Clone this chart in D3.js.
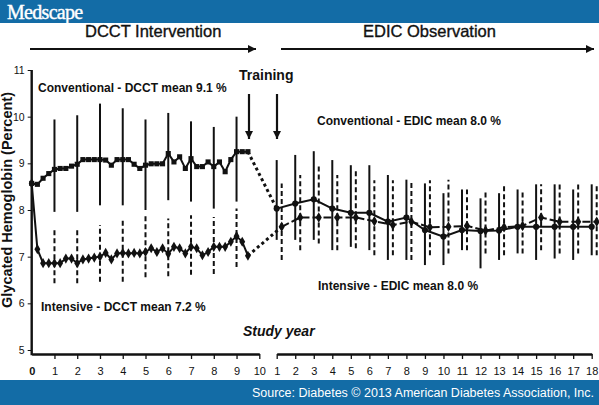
<!DOCTYPE html>
<html>
<head>
<meta charset="utf-8">
<script src="https://cdn.jsdelivr.net/npm/d3@7"></script>
<style>
  body { margin: 0; background: #fff; }
  svg { display: block; font-family: Arial, "Liberation Sans", sans-serif; }
</style>
</head>
<body>
<svg id="chart" width="599" height="405"></svg>
<script>
// DCCT: quarterly visits, years 0 - 9.5
const dcctVisits = [0, 0.25, 0.5, 0.75, 1, 1.25, 1.5, 1.75, 2, 2.25, 2.5, 2.75, 3, 3.25, 3.5, 3.75,
  4, 4.25, 4.5, 4.75, 5, 5.25, 5.5, 5.75, 6, 6.25, 6.5, 6.75, 7, 7.25, 7.5, 7.75,
  8, 8.25, 8.5, 8.75, 9, 9.25, 9.5];
const dcctConventional = [8.57, 8.55, 8.68, 8.78, 8.87, 8.89, 8.89, 8.94, 8.98, 9.08, 9.08, 9.08, 9.08,
  9.07, 8.96, 9.08, 9.08, 9.08, 8.98, 8.89, 8.96, 8.99, 8.99, 8.99, 9.21, 9.03, 9.14, 8.89,
  9.10, 8.93, 8.93, 9.03, 8.93, 9.03, 8.82, 9.08, 9.25, 9.25, 9.25];
const dcctIntensive = [8.57, 7.16, 6.86, 6.86, 6.86, 6.86, 6.96, 6.96, 6.86, 6.94, 6.96, 6.98, 7.0,
  7.08, 6.94, 7.07, 7.08, 7.07, 7.08, 7.07, 7.10, 7.18, 7.10, 7.18, 7.06, 7.21, 7.18, 7.07,
  7.21, 7.18, 7.03, 7.10, 7.21, 7.21, 7.21, 7.32, 7.44, 7.32, 7.02];

// DCCT yearly spread bars
const dcctBarYears = [1, 2, 3, 4, 5, 6, 7, 8, 9];
const dcctConvLow  = [7.96, 7.96, 8.10, 8.10, 8.00, 8.21, 8.18, 8.03, 8.18];
const dcctConvHigh = [9.94, 10.03, 10.28, 10.18, 9.94, 10.08, 9.90, 9.78, 10.00];
const dcctIntLow   = [6.43, 6.43, 6.46, 6.46, 6.56, 6.58, 6.61, 6.63, 6.78];
const dcctIntHigh  = [7.58, 7.57, 7.68, 7.78, 7.89, 7.82, 7.89, 7.85, 8.03];

// EDIC: yearly, years 1 - 18
const edicYears = [1, 2, 3, 4, 5, 6, 7, 8, 9, 10, 11, 12, 13, 14, 15, 16, 17, 18];
const edicConventional = [8.03, 8.14, 8.23, 8.03, 7.94, 7.94, 7.75, 7.84, 7.57, 7.43, 7.57, 7.55,
  7.56, 7.64, 7.64, 7.64, 7.64, 7.64];
const edicIntensive = [7.64, 7.84, 7.84, 7.84, 7.84, 7.76, 7.68, 7.75, 7.63, 7.64, 7.66, 7.56,
  7.63, 7.66, 7.84, 7.75, 7.75, 7.75];
const edicConvLow  = [7.36, 7.36, 7.36, 7.14, 7.21, 7.14, 6.93, 6.93, 6.82, 6.82, 7.14, 6.75,
  6.93, 7.07, 6.93, 6.96, 6.93, 7.03];
const edicConvHigh = [9.07, 9.18, 9.26, 9.07, 8.96, 8.96, 8.75, 8.65, 8.57, 8.36, 8.44, 8.25,
  8.36, 8.44, 8.55, 8.55, 8.44, 8.55];
const edicIntLow   = [6.93, 7.14, 7.28, 7.14, 7.18, 7.03, 7.03, 6.93, 7.03, 7.07, 7.14, 7.07,
  7.03, 7.07, 7.14, 7.07, 7.07, 7.03];
const edicIntHigh  = [8.57, 8.75, 8.96, 8.75, 8.84, 8.64, 8.64, 8.64, 8.64, 8.65, 8.44, 8.44,
  8.55, 8.44, 8.55, 8.55, 8.55, 8.55];

const yTicks = [5, 6, 7, 8, 9, 10, 11];
const dcctTicks = [0, 1, 2, 3, 4, 5, 6, 7, 8, 9, 10];
const edicTicks = edicYears;

const blue = "#136ca6";
const ink = "#111";
const svg = d3.select("#chart");

// Medscape header and source footer
svg.append("rect").attr("x", 0).attr("y", 0).attr("width", 599).attr("height", 23).attr("fill", blue);
svg.append("text").attr("x", 7).attr("y", 19)
  .style("font-family", "'Liberation Serif', 'DejaVu Serif', serif")
  .style("font-size", "20px").style("letter-spacing", "-0.7px")
  .attr("fill", "#fff").attr("stroke", "#fff").attr("stroke-width", 0.4)
  .text("Medscape");
svg.append("rect").attr("x", 0).attr("y", 380).attr("width", 599).attr("height", 25).attr("fill", blue);
svg.append("text").attr("x", 594).attr("y", 397).attr("text-anchor", "end")
  .style("font-size", "12.5px").attr("fill", "#fff")
  .text("Source: Diabetes \u00a9 2013 American Diabetes Association, Inc.");

// Scales
const y = d3.scaleLinear().domain([5, 11]).range([350, 70]);
const xD = d3.scaleLinear().domain([0, 10]).range([31.7, 259.3]);
const xE = d3.scaleLinear().domain([1, 18]).range([276.7, 591.7]);
const axisY = 354;
const edicShift = 5; // intensive EDIC marks sit a little right of conventional

// Arrow head
svg.append("defs").append("marker")
  .attr("id", "arrow")
  .attr("viewBox", "0 -5 10 10")
  .attr("refX", 10).attr("refY", 0)
  .attr("markerWidth", 9).attr("markerHeight", 8)
  .attr("markerUnits", "userSpaceOnUse")
  .attr("orient", "auto")
  .append("path").attr("d", "M0,-5L10,0L0,5Z").attr("fill", ink);

// Phase headers
svg.append("text").attr("x", 85).attr("y", 37).style("font-size", "16.5px")
  .attr("fill", ink).attr("stroke", ink).attr("stroke-width", 0.35).text("DCCT Intervention");
svg.append("text").attr("x", 363).attr("y", 37).style("font-size", "16.5px")
  .attr("fill", ink).attr("stroke", ink).attr("stroke-width", 0.35).text("EDIC Observation");

const arrows = [
  [30, 49, 256, 49],
  [281, 49, 594, 49],
  [249, 94, 249, 139],
  [277, 94, 277, 139]
];
svg.append("g").selectAll("line").data(arrows).join("line")
  .attr("x1", d => d[0]).attr("y1", d => d[1])
  .attr("x2", d => d[2]).attr("y2", d => d[3])
  .attr("stroke", ink).attr("stroke-width", 2.2)
  .attr("marker-end", "url(#arrow)");

svg.append("text").attr("x", 239).attr("y", 80).style("font-size", "14px")
  .style("font-weight", "bold").attr("fill", ink).text("Training");

// Y axis
const gy = svg.append("g").attr("transform", "translate(31.7,0)")
  .call(d3.axisLeft(y).tickValues(yTicks).tickFormat(d3.format("d"))
    .tickSize(4).tickSizeOuter(0).tickPadding(3));
gy.select(".domain").remove();
gy.selectAll(".tick line").attr("stroke", ink);
gy.selectAll(".tick text").style("font-size", "10.5px")
  .style("font-family", "Arial, 'Liberation Sans', sans-serif").attr("fill", ink);
svg.append("line").attr("x1", 31.7).attr("x2", 31.7).attr("y1", y(11)).attr("y2", axisY + 1.2)
  .attr("stroke", ink).attr("stroke-width", 2.4);

svg.append("text")
  .attr("transform", "rotate(-90)")
  .attr("x", -200).attr("y", 12)
  .attr("text-anchor", "middle")
  .style("font-size", "14.5px").style("font-weight", "bold").attr("fill", ink)
  .text("Glycated Hemoglobin (Percent)");

// X axes (broken between DCCT and EDIC)
const styleXAxis = g => {
  g.select(".domain").attr("stroke", ink).attr("stroke-width", 2.4);
  g.selectAll(".tick line").attr("stroke", ink).attr("stroke-width", 1.3);
  g.selectAll(".tick text").style("font-size", "11px")
    .style("font-family", "Arial, 'Liberation Sans', sans-serif").attr("fill", ink);
};
const gxD = svg.append("g").attr("transform", `translate(0,${axisY})`)
  .call(d3.axisBottom(xD).tickValues(dcctTicks).tickSize(5).tickSizeOuter(0).tickPadding(8))
  .call(styleXAxis);
gxD.selectAll(".tick").filter(d => d === 0).select("line").remove();
gxD.selectAll(".tick").filter(d => d === 0).select("text").style("font-weight", "bold");
svg.append("g").attr("transform", `translate(0,${axisY})`)
  .call(d3.axisBottom(xE).tickValues(edicTicks).tickSize(5).tickSizeOuter(0).tickPadding(8))
  .call(styleXAxis);

svg.append("text").attr("x", 243).attr("y", 336)
  .style("font-size", "14px").style("font-weight", "bold").style("font-style", "italic")
  .attr("fill", ink).text("Study year");

// Spread bars
const bars = svg.append("g").attr("stroke", ink).attr("stroke-width", 2);
bars.selectAll(".dcct-conv").data(dcctBarYears).join("line").attr("class", "dcct-conv")
  .attr("x1", d => xD(d)).attr("x2", d => xD(d))
  .attr("y1", (d, i) => y(dcctConvLow[i])).attr("y2", (d, i) => y(dcctConvHigh[i]));
bars.selectAll(".dcct-int").data(dcctBarYears).join("line").attr("class", "dcct-int")
  .attr("x1", d => xD(d)).attr("x2", d => xD(d))
  .attr("y1", (d, i) => y(dcctIntLow[i])).attr("y2", (d, i) => y(dcctIntHigh[i]))
  .attr("stroke-dasharray", "5,3");
bars.selectAll(".edic-conv").data(edicYears).join("line").attr("class", "edic-conv")
  .attr("x1", d => xE(d)).attr("x2", d => xE(d))
  .attr("y1", (d, i) => y(edicConvLow[i])).attr("y2", (d, i) => y(edicConvHigh[i]));
bars.selectAll(".edic-int").data(edicYears).join("line").attr("class", "edic-int")
  .attr("x1", d => xE(d) + edicShift).attr("x2", d => xE(d) + edicShift)
  .attr("y1", (d, i) => y(edicIntLow[i])).attr("y2", (d, i) => y(edicIntHigh[i]))
  .attr("stroke-dasharray", "5,3");

// Training gap: dotted links between the two phases
const lastD = dcctVisits.length - 1;
const gaps = [
  [[xD(dcctVisits[lastD]), y(dcctConventional[lastD])], [xE(edicYears[0]), y(edicConventional[0])]],
  [[xD(dcctVisits[lastD]), y(dcctIntensive[lastD])], [xE(edicYears[0]) + edicShift, y(edicIntensive[0])]]
];
svg.append("g").selectAll("path").data(gaps).join("path")
  .attr("d", d => d3.line()(d))
  .attr("fill", "none").attr("stroke", ink).attr("stroke-width", 3)
  .attr("stroke-dasharray", "3,3");

// Series lines
const lineD = vals => d3.line().x((d, i) => xD(dcctVisits[i])).y(d => y(d))(vals);
const lineE = (vals, shift) => d3.line().x((d, i) => xE(edicYears[i]) + shift).y(d => y(d))(vals);
const lines = svg.append("g").attr("fill", "none").attr("stroke", ink).attr("stroke-width", 2);
lines.append("path").attr("d", lineD(dcctConventional));
lines.append("path").attr("d", lineD(dcctIntensive));
lines.append("path").attr("d", lineE(edicConventional, 0));
lines.append("path").attr("d", lineE(edicIntensive, edicShift)).attr("stroke-dasharray", "8,3");

// Markers
const marks = svg.append("g").attr("fill", ink);
marks.selectAll(".m-dc").data(dcctConventional).join("path").attr("class", "m-dc")
  .attr("d", d3.symbol().type(d3.symbolSquare).size(26))
  .attr("transform", (d, i) => `translate(${xD(dcctVisits[i])},${y(d)})`);
marks.selectAll(".m-di").data(dcctIntensive).join("path").attr("class", "m-di")
  .attr("d", d3.symbol().type(d3.symbolDiamond).size(30))
  .attr("transform", (d, i) => `translate(${xD(dcctVisits[i])},${y(d)})`);
marks.selectAll(".m-ec").data(edicConventional).join("path").attr("class", "m-ec")
  .attr("d", d3.symbol().type(d3.symbolCircle).size(30))
  .attr("transform", (d, i) => `translate(${xE(edicYears[i])},${y(d)})`);
marks.selectAll(".m-ei").data(edicIntensive).join("path").attr("class", "m-ei")
  .attr("d", d3.symbol().type(d3.symbolDiamond).size(32))
  .attr("transform", (d, i) => `translate(${xE(edicYears[i]) + edicShift},${y(d)})`);

// Group labels
const labels = [
  [38, 92, "Conventional - DCCT mean 9.1 %"],
  [41, 311, "Intensive - DCCT mean 7.2 %"],
  [317, 125, "Conventional - EDIC mean 8.0 %"],
  [318, 290, "Intensive - EDIC mean 8.0 %"]
];
svg.append("g").selectAll("text").data(labels).join("text")
  .attr("x", d => d[0]).attr("y", d => d[1])
  .style("font-size", "12px").style("font-weight", "bold").attr("fill", ink)
  .text(d => d[2]);
</script>
</body>
</html>
